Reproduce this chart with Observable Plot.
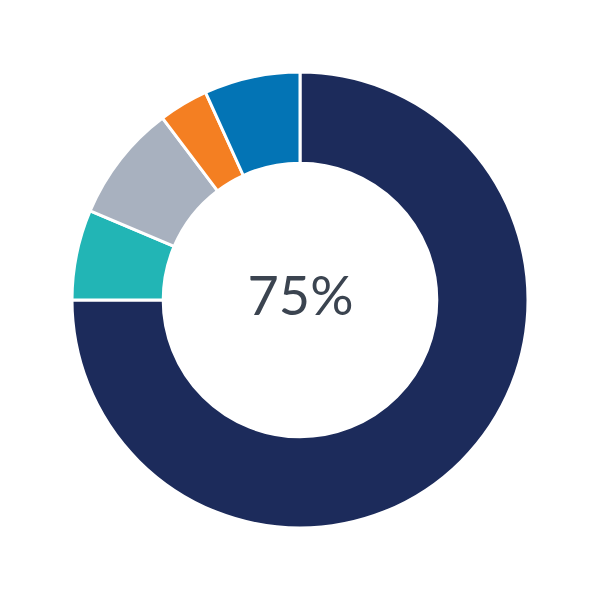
<!DOCTYPE html>
<html>
<head>
<meta charset="utf-8">
<script src="https://cdn.jsdelivr.net/npm/d3@7"></script>
<script src="https://cdn.jsdelivr.net/npm/@observablehq/plot@0.6"></script>
<style>
  html, body { margin: 0; padding: 0; background: #fff; }
</style>
</head>
<body>
<div id="chart"></div>
<script>
const categories = ["A", "B", "C", "D", "E"];
const values = [75, 6.4, 8.3, 3.5, 6.8];
const colors = ["#1c2b5b", "#22b5b5", "#a8b1bf", "#f47f22", "#0374b5"];
const centerLabel = "75%";

const data = categories.map((c, i) => ({category: c, value: values[i], color: colors[i]}));

const R = 300 / 228;      // domain half-width so outer radius = 1 unit -> 228px
const innerRatio = 0.6;

function donutMark(index, scales) {
  const {x, y} = scales;
  const cx = x(0), cy = y(0);
  const rOuter = Math.abs(x(1) - x(0));
  const rInner = rOuter * innerRatio;
  const pie = d3.pie().sort(null).value(d => d.value);
  const arc = d3.arc().innerRadius(rInner).outerRadius(rOuter);
  const g = d3.create("svg:g").attr("transform", `translate(${cx},${cy})`);
  g.selectAll("path")
    .data(pie(data))
    .join("path")
    .attr("d", arc)
    .attr("fill", d => d.data.color)
    .attr("stroke", "#fff")
    .attr("stroke-width", 3)
    .attr("stroke-linejoin", "round");
  return g.node();
}

const chart = Plot.plot({
  width: 600,
  height: 600,
  margin: 0,
  x: {domain: [-R, R], axis: null},
  y: {domain: [-R, R], axis: null},
  marks: [
    donutMark,
    Plot.text([centerLabel], {
      x: () => 0, y: () => 0,
      text: d => d,
      fontSize: 54,
      fontFamily: "Lato",
      fill: "#3b4450",
      textAnchor: "middle",
      dy: -3
    })
  ]
});
chart.style.fontFamily = "Lato";
document.getElementById("chart").appendChild(chart);
</script>
</body>
</html>
